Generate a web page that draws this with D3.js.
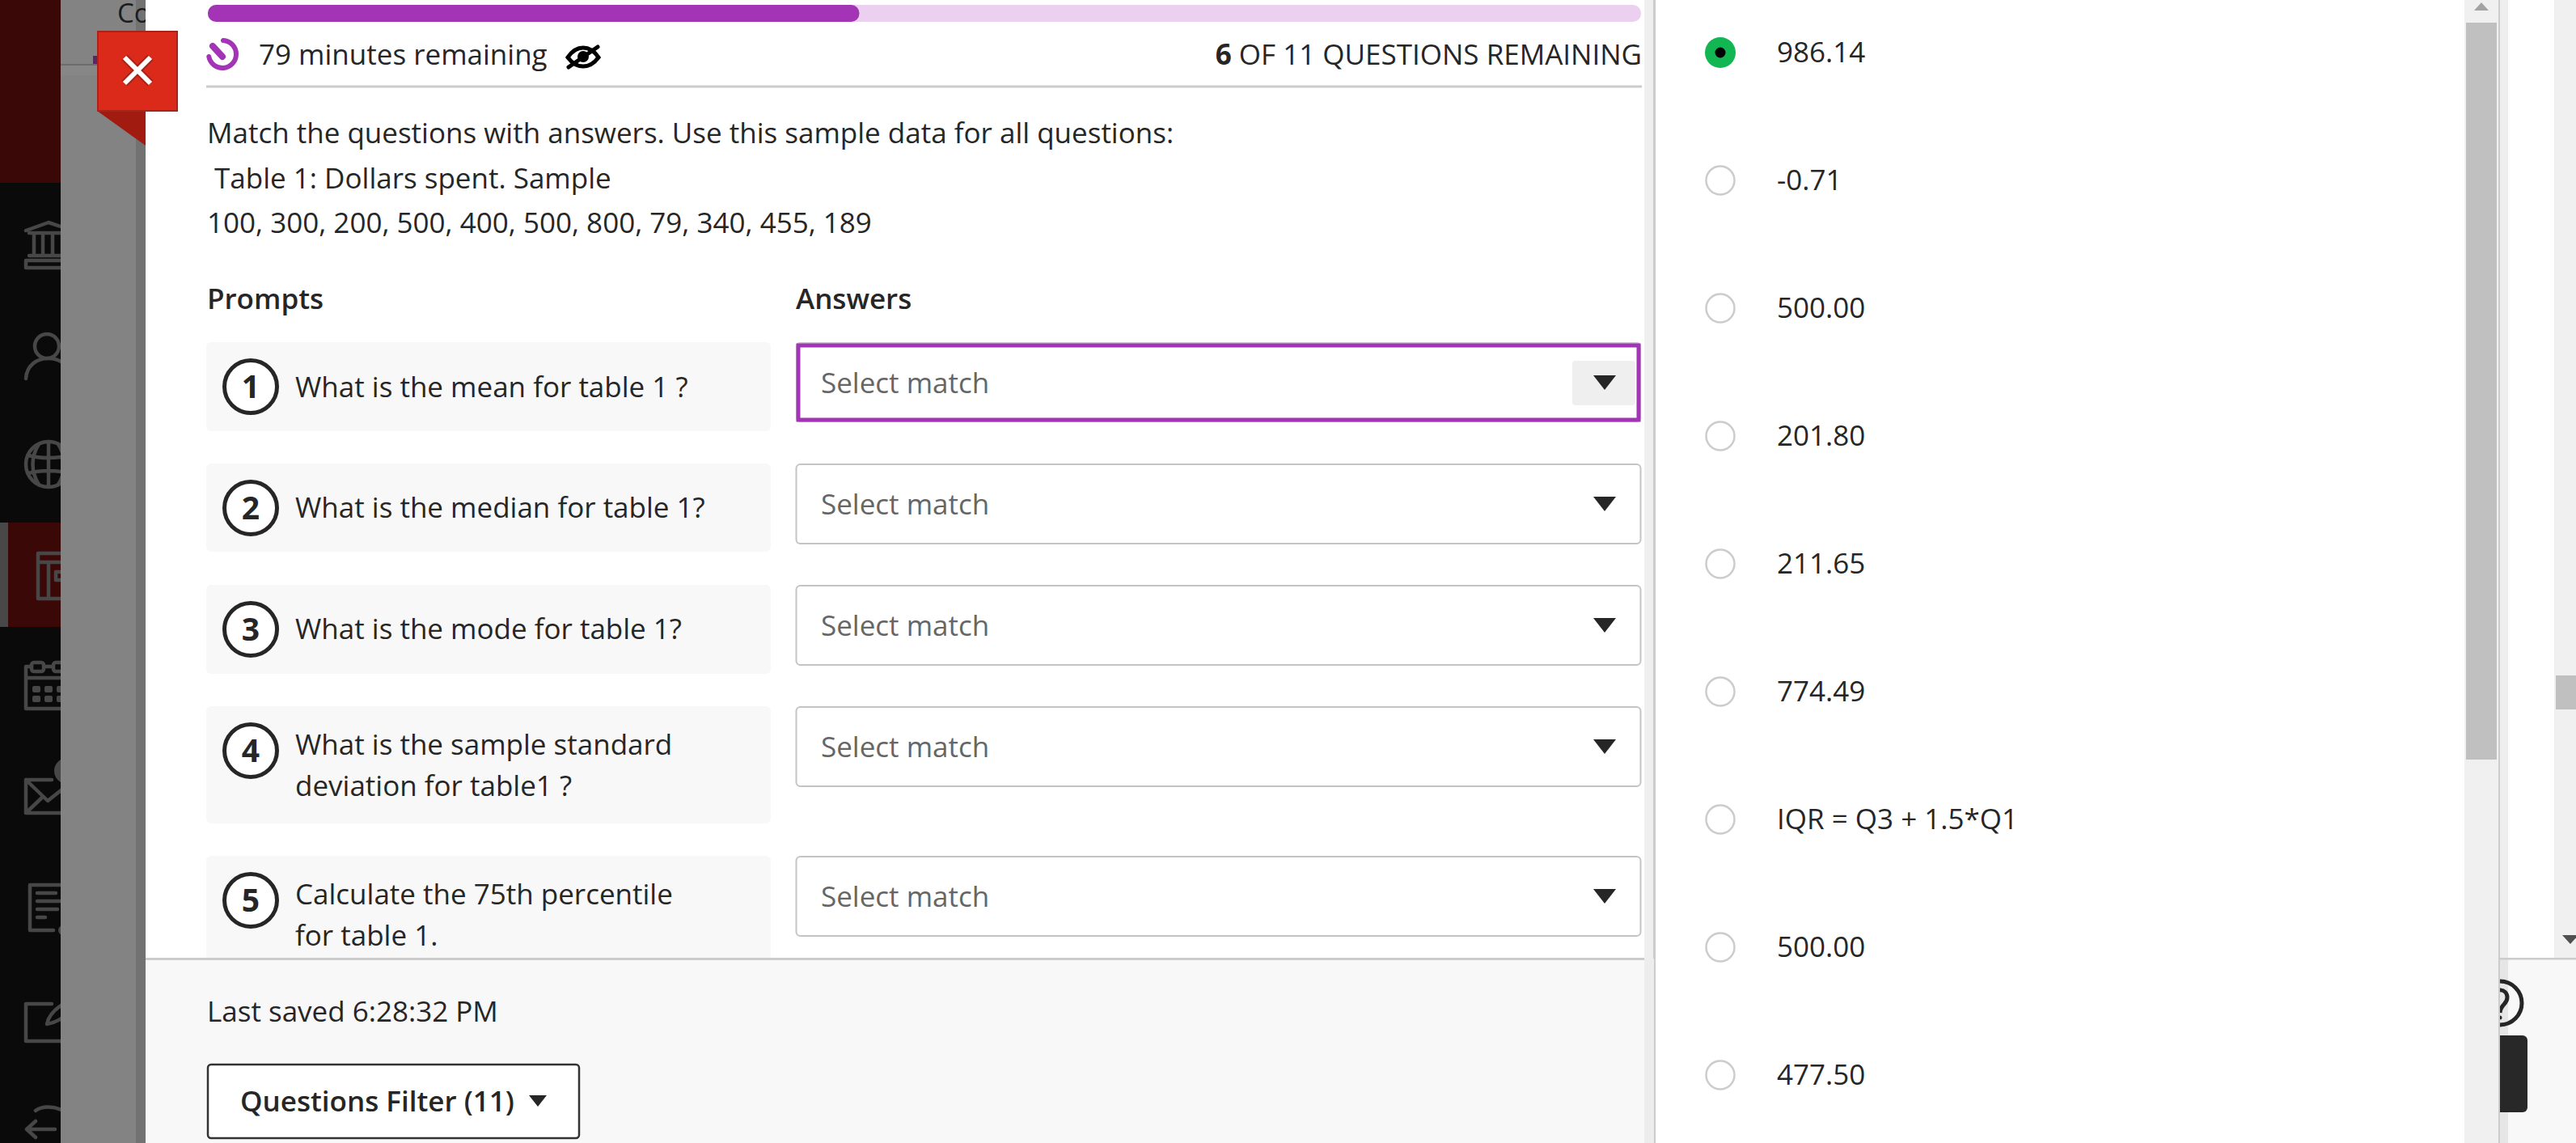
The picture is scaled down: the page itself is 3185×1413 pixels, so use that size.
<!DOCTYPE html>
<html>
<head>
<meta charset="utf-8">
<script src="https://cdn.jsdelivr.net/npm/d3@7.9.0/dist/d3.min.js"></script>
<style>
  html, body { margin: 0; padding: 0; background: #fff; overflow: hidden; }
  svg { display: block; }
  text { font-family: "Open Sans", sans-serif; fill: #262626; }
</style>
</head>
<body>
<svg id="page" width="3185" height="1413"></svg>
<script>
// Values
const totalQuestions = 11;
const questionsAnswered = 5;
const introLines = [
  'Match the questions with answers. Use this sample data for all questions:',
  '\u00a0Table 1: Dollars spent. Sample',
  '100, 300, 200, 500, 400, 500, 800, 79, 340, 455, 189'
];
const promptNumbers = [1, 2, 3, 4, 5];
const promptLines = [
  ['What is the mean for table 1 ?'],
  ['What is the median for table 1?'],
  ['What is the mode for table 1?'],
  ['What is the sample standard', 'deviation for table1 ?'],
  ['Calculate the 75th percentile', 'for table 1.']
];
const promptTops = [423, 573, 723, 873, 1058];
const promptBottoms = [533, 682, 833, 1018, 1200];
const answerOptions = ['986.14', '-0.71', '500.00', '201.80', '211.65', '774.49', 'IQR = Q3 + 1.5*Q1', '500.00', '477.50'];
const selectedOption = 0;

const textSize = 35;
const svg = d3.select('#page');
const defs = svg.append('defs');

function rect(g, x, y, w, h, fill, rx) {
  return g.append('rect').attr('x', x).attr('y', y).attr('width', w).attr('height', h)
    .attr('fill', fill).attr('rx', rx || 0);
}
function tri(g, cx, top, bottom, half, fill) {
  return g.append('path').attr('d', `M${cx - half},${top}L${cx + half},${top}L${cx},${bottom}Z`).attr('fill', fill);
}
function label(g, x, y, str, size, weight, fill) {
  return g.append('text').attr('x', x).attr('y', y).text(str)
    .attr('font-size', size).attr('font-weight', weight || 400).style('fill', fill || null);
}

// Sidebar behind the dimmed overlay
defs.append('clipPath').attr('id', 'sideClip').append('rect').attr('width', 75).attr('height', 1413);
const side = svg.append('g').attr('clip-path', 'url(#sideClip)');
rect(side, 0, 0, 75, 1413, '#0a0a0a');
rect(side, 0, 0, 75, 226, '#3a0806');
rect(side, 0, 646, 75, 129, '#3a0806');
rect(side, 0, 646, 10, 129, '#484848');

const ink = '#474747';
const icons = side.append('g').attr('fill', 'none').attr('stroke', ink).attr('stroke-width', 4.5)
  .attr('stroke-linecap', 'round').attr('stroke-linejoin', 'round');
// bank
icons.append('path').attr('d', 'M32,285L60,275L90,285 M36,288H90 M42,290V315 M53,290V315 M65,290V315 M77,290V315 M36,316H90 M32,322H90 M32,322V331H90');
// person
icons.append('circle').attr('cx', 58).attr('cy', 428).attr('r', 15);
icons.append('path').attr('d', 'M32,468C33,452 45,443 60,443C68,443 75,446 80,450');
// globe
icons.append('circle').attr('cx', 60).attr('cy', 574).attr('r', 28);
icons.append('path').attr('d', 'M35,563C50,567 70,567 85,563 M35,585C50,581 70,581 85,585 M60,546V602 M48,549C38,565 38,583 48,599 M72,549C82,565 82,583 72,599');
// active page
icons.append('path').attr('d', 'M90,684H47V740H90 M47,695H90 M60,695V740 M90,707H69V717H90');
// calendar
icons.append('path').attr('d', 'M39,824H32V876H90 M32,838H90 M55,824H64');
icons.append('rect').attr('x', 39).attr('y', 819).attr('width', 15).attr('height', 11).attr('rx', 3);
icons.append('rect').attr('x', 66).attr('y', 819).attr('width', 15).attr('height', 11).attr('rx', 3);
side.append('g').attr('fill', ink).selectAll('rect').data(d3.cross([40, 55, 70], [848, 860])).join('rect')
  .attr('x', d => d[0]).attr('y', d => d[1]).attr('width', 10).attr('height', 8).attr('rx', 2);
// mail
icons.append('path').attr('d', 'M64,964H32V1005H90 M32,964L59,990L78,975 M32,1005L53,985');
side.append('circle').attr('cx', 83).attr('cy', 953).attr('r', 16).attr('fill', ink);
// doc
icons.append('path').attr('d', 'M90,1094H37V1150H66 M46,1104H69 M46,1114H74 M46,1124H71 M46,1134H56');
side.append('circle').attr('cx', 78).attr('cy', 1150).attr('r', 6).attr('fill', ink);
// edit
icons.append('path').attr('d', 'M64,1241H32V1287H90');
icons.append('path').attr('d', 'M58,1266C60,1255 68,1247 80,1240L88,1248C80,1258 70,1264 58,1266Z');
// back
icons.append('path').attr('d', 'M34,1396H68 M44,1386L33,1396L44,1406 M44,1373C52,1367 66,1367 78,1373');

// Dimmed page strip between sidebar and modal
rect(svg, 75, 0, 105, 1413, '#838383');
rect(svg, 168, 0, 12, 1413, '#727272');
rect(svg, 75, 79, 93, 2, '#6c6c6c');
rect(svg, 75, 81, 93, 12, '#878787');
rect(svg, 115, 69, 6, 10, '#5b2669');
defs.append('clipPath').attr('id', 'stripClip').append('rect').attr('x', 75).attr('width', 105).attr('height', 120);
label(svg.append('g').attr('clip-path', 'url(#stripClip)'), 145, 28, 'Co', 33, 400, '#1c1c1c');

// Modal left column
rect(svg, 180, 0, 1853, 1413, '#ffffff');
rect(svg, 2033, 0, 12, 1413, '#efefef');
rect(svg, 2044, 0, 3, 1413, '#cccccc');

// Red close tab
svg.append('path').attr('d', 'M120,137H180V180Z').attr('fill', '#a11b11');
rect(svg, 121, 39, 98, 98, '#db2a1a').attr('stroke', '#a8241a').attr('stroke-width', 2);
svg.append('path').attr('d', 'M154,71L186,103M186,71L154,103').attr('stroke', '#a8241a').attr('stroke-width', 10);
svg.append('path').attr('d', 'M154,71L186,103M186,71L154,103').attr('stroke', '#ffffff').attr('stroke-width', 6);

// Progress bar
const progress = d3.scaleLinear().domain([0, totalQuestions]).range([257, 2029]);
rect(svg, progress(0), 6, progress(totalQuestions) - progress(0), 21, '#ebd0f0', 10);
rect(svg, progress(0), 6, progress(questionsAnswered) - progress(0), 21, '#a234b5', 10);

// Timer + status row
const timerArc = d3.arc().innerRadius(14).outerRadius(20).cornerRadius(3);
svg.append('path').attr('transform', 'translate(275,67)')
  .attr('d', timerArc({ startAngle: -0.12, endAngle: 1.5 * Math.PI })).attr('fill', '#a234b5');
svg.append('path').attr('d', 'M263,57L275,70').attr('stroke', '#a234b5').attr('stroke-width', 8).attr('stroke-linecap', 'round');
label(svg, 320, 80, '79 minutes remaining', textSize);
const eye = svg.append('g').attr('stroke', '#000').attr('stroke-width', 5).attr('fill', 'none').attr('stroke-linecap', 'round');
eye.append('path').attr('d', 'M702,71C708,62 714,59 721,59C728,59 734,62 740,71C734,79 728,82 721,82C714,82 708,79 702,71Z');
eye.append('path').attr('d', 'M703,83L739,58');
svg.append('circle').attr('cx', 721).attr('cy', 70).attr('r', 7).attr('fill', '#000');
const remaining = label(svg, 2030, 80, '', textSize).attr('text-anchor', 'end');
remaining.append('tspan').attr('font-weight', 700).text(totalQuestions - questionsAnswered);
remaining.append('tspan').text(` OF ${totalQuestions} QUESTIONS REMAINING`);
rect(svg, 255, 105.5, 1775, 3, '#cccccc');

// Intro text
const introY = d3.scalePoint().domain(d3.range(introLines.length)).range([177, 288]);
svg.append('g').selectAll('text').data(introLines).join('text')
  .attr('x', 256).attr('y', (d, i) => introY(i)).attr('font-size', textSize).text(d => d);

label(svg, 256, 382, 'Prompts', textSize, 600);
label(svg, 984, 382, 'Answers', textSize, 600);

// Prompt rows
defs.append('clipPath').attr('id', 'bodyClip').append('rect').attr('x', 180).attr('width', 1853).attr('height', 1185);
const body = svg.append('g').attr('clip-path', 'url(#bodyClip)');
const rows = body.selectAll('g.row').data(promptNumbers).join('g').attr('class', 'row');
rows.append('rect').attr('x', 255).attr('width', 698).attr('rx', 6)
  .attr('y', (d, i) => promptTops[i])
  .attr('height', (d, i) => promptBottoms[i] - promptTops[i]).attr('fill', '#f8f8f8');
rows.append('circle').attr('cx', 310).attr('cy', (d, i) => promptTops[i] + 55).attr('r', 32.5)
  .attr('fill', '#fff').attr('stroke', '#262626').attr('stroke-width', 5);
rows.append('text').attr('x', 310).attr('y', (d, i) => promptTops[i] + 55 + 14).attr('text-anchor', 'middle')
  .attr('font-size', 39).attr('font-weight', 700).text(d => d);
rows.each(function (d, i) {
  const row = d3.select(this);
  const first = i === 0 ? 68 : i === 3 || i === 4 ? 60 : 67;
  promptLines[i].forEach((str, j) => {
    label(row, 365, promptTops[i] + first + j * 51, str, textSize);
  });
  // answer dropdown
  const top = promptTops[i] + 1;
  const active = i === 0;
  if (active) {
    rect(row, 984, top - 1, 1045, 99, '#c8c8c8', 5);
    rect(row, 987, top + 3, 1039, 92, '#ffffff').attr('stroke', '#a234b5').attr('stroke-width', 5);
    rect(row, 1944, top + 22, 78, 55, '#efefef', 4);
  } else {
    rect(row, 984.5, top, 1044, 98, '#ffffff', 5).attr('stroke', '#c4c4c4').attr('stroke-width', 2);
  }
  label(row, 1015, top + 62, 'Select match', textSize, 400, '#666666');
  tri(row, 1984, top + 40, top + 58, 14, '#262626');
});

// Footer
rect(svg, 180, 1185, 1853, 228, '#f8f8f8');
rect(svg, 180, 1184, 1853, 3, '#cccccc');
label(svg, 256, 1263, 'Last saved 6:28:32 PM', textSize);
rect(svg, 257, 1316, 459, 91, '#ffffff', 4).attr('stroke', '#333333').attr('stroke-width', 2.5);
label(svg, 297, 1374, `Questions Filter (${totalQuestions})`, textSize, 600);
tri(svg, 665, 1354, 1368, 11, '#262626');
rect(svg, 2033, 1185, 12, 228, '#ededed');

// Answer options column
const optionY = d3.scalePoint().domain(d3.range(answerOptions.length)).range([65, 1329]);
const opts = svg.append('g').selectAll('g').data(answerOptions).join('g')
  .attr('transform', (d, i) => `translate(0,${optionY(i)})`);
opts.append('circle').attr('cx', 2127).attr('r', (d, i) => i === selectedOption ? 19 : 17.5)
  .attr('fill', (d, i) => i === selectedOption ? '#12b652' : '#fff')
  .attr('stroke', (d, i) => i === selectedOption ? 'none' : '#cccccc').attr('stroke-width', 2.5);
opts.filter((d, i) => i === selectedOption).append('circle').attr('cx', 2127).attr('r', 6.5).attr('fill', '#000');
opts.append('text').attr('x', 2197).attr('y', 12).attr('font-size', textSize).text(d => d);

// Scrollbars and right edge
rect(svg, 3047, 0, 42, 1413, '#f0f0f0');
rect(svg, 3049, 28, 38, 911, '#c0c0c0');
tri(svg, 3068, 13, 3, 9, '#a3a3a3');
rect(svg, 3089, 0, 2, 1413, '#cccccc');
rect(svg, 3091, 0, 10, 1185, '#eeeeee');
rect(svg, 3101, 0, 57, 1185, '#ffffff');
rect(svg, 3158, 0, 27, 1185, '#f0f0f0');
rect(svg, 3160, 835, 25, 42, '#c0c0c0');
tri(svg, 3178, 1156, 1167, 10, '#505050');
rect(svg, 3091, 1185, 94, 228, '#f8f8f8');
rect(svg, 3091, 1185, 10, 228, '#e6e6e6');
rect(svg, 3091, 1184, 94, 2.5, '#cccccc');
defs.append('clipPath').attr('id', 'helpClip').append('rect').attr('x', 3091).attr('y', 1186).attr('width', 94).attr('height', 227);
const help = svg.append('g').attr('clip-path', 'url(#helpClip)');
help.append('circle').attr('cx', 3091).attr('cy', 1240).attr('r', 27).attr('fill', 'none').attr('stroke', '#262626').attr('stroke-width', 5);
help.append('path').attr('d', 'M3080,1232C3084,1220 3100,1222 3100,1233C3100,1242 3092,1241 3091,1252').attr('fill', 'none').attr('stroke', '#262626').attr('stroke-width', 5);
help.append('circle').attr('cx', 3091).attr('cy', 1258).attr('r', 2.5).attr('fill', '#262626');
rect(help, 3060, 1280, 65, 95, '#282828', 6);
</script>
</body>
</html>
